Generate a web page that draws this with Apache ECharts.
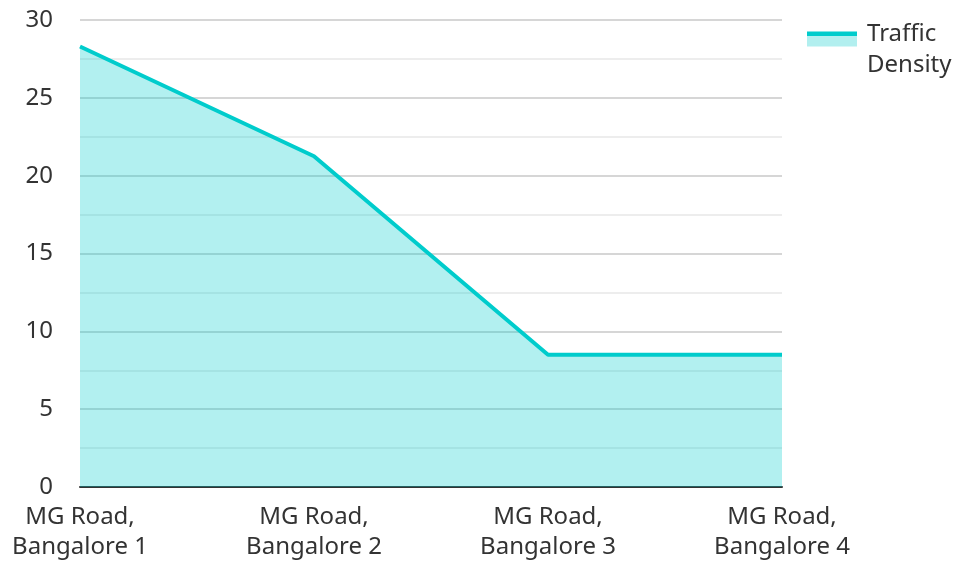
<!DOCTYPE html>
<html><head><meta charset="utf-8">
<script src="https://cdn.jsdelivr.net/npm/echarts@6/dist/echarts.min.js"></script>
<style>html,body{margin:0;padding:0;background:#fff}#c{width:956px;height:562px}</style>
</head><body><div id="c"></div>
<script>
const categories = ['MG Road,\nBangalore 1', 'MG Road,\nBangalore 2', 'MG Road,\nBangalore 3', 'MG Road,\nBangalore 4'];
const trafficDensity = [28.3, 21.25, 8.5, 8.5];
const seriesName = 'Traffic Density';

const chart = echarts.init(document.getElementById('c'));
const legendIconColor = new echarts.graphic.LinearGradient(0, 0, 0, 1, [
  { offset: 0, color: '#00CCCC' }, { offset: 0.27, color: '#00CCCC' },
  { offset: 0.27, color: '#B2EFEF' }, { offset: 1, color: '#B2EFEF' }
]);
chart.setOption({
  animation: false,
  textStyle: { fontFamily: 'Noto Sans' },
  grid: { left: 80, right: 174, top: 20, bottom: 75 },
  legend: {
    left: 807, top: 3, padding: 0,
    itemWidth: 50, itemHeight: 15, itemGap: 10,
    icon: 'rect',
    itemStyle: { color: legendIconColor, borderWidth: 0 },
    lineStyle: { width: 0, opacity: 0 },
    formatter: () => '{s| }\n{a|Traffic}\n{a|Density}',
    textStyle: {
      fontSize: 24, color: '#333', fontFamily: 'Noto Sans',
      rich: {
        s: { fontSize: 10, lineHeight: 22, padding: [0, 0, 0, 5] },
        a: { fontSize: 24, lineHeight: 31, color: '#333', fontFamily: 'Noto Sans', padding: [0, 0, 0, 5] }
      }
    }
  },
  xAxis: {
    type: 'category', data: categories, boundaryGap: false,
    axisLine: { lineStyle: { color: '#333', width: 2 } },
    axisTick: { show: false },
    axisLabel: { fontSize: 24, color: '#333', lineHeight: 30, margin: 15, fontFamily: 'Noto Sans' }
  },
  yAxis: {
    type: 'value', min: 0, max: 30, interval: 5,
    axisLine: { show: false }, axisTick: { show: false },
    axisLabel: { fontSize: 24, color: '#333', margin: 27, fontFamily: 'Noto Sans' },
    splitLine: { lineStyle: { color: '#c8c8c8', width: 1.5 } },
    minorTick: { show: false, splitNumber: 2 },
    minorSplitLine: { show: true, lineStyle: { color: '#e8e8e8', width: 1.5 } }
  },
  series: [{
    name: seriesName, type: 'line', data: trafficDensity,
    showSymbol: false, symbol: 'none',
    lineStyle: { color: '#00CCCC', width: 4 },
    itemStyle: { color: '#00CCCC' },
    areaStyle: { color: '#00CCCC', opacity: 0.3 }
  }]
});
</script></body></html>
